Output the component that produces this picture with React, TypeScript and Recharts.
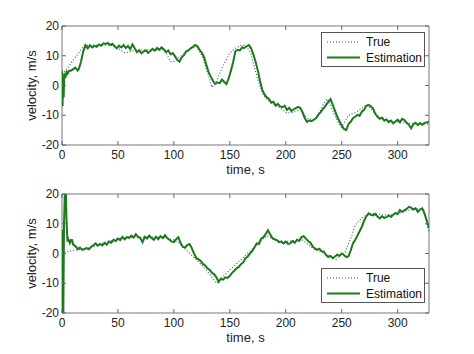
import React from 'react';
import { LineChart, Line, XAxis, YAxis, ReferenceArea, Legend } from 'recharts';

const xTicks = [0, 50, 100, 150, 200, 250, 300];
const yTicks = [-20, -10, 0, 10, 20];
const seriesNames = ['True', 'Estimation'];
const axisLabels = { x: 'time, s', y: 'velocity, m/s' };

const topEstimation: [number, number][] = [
  [0,5],[0.5,-7],[1,3],[1.5,-4],[2,4],[3,2.5],[4,4.5],[5,4],[6,5],[8,5],[10,5.5],[12,6],[14,5],[15,5.5],[17,8],[19,11.5],[21,13.5],[23,12.5],[25,13.5],[27,12.8],[29,13.3],[31,13],[33,13.8],[35,13.4],[37,14.2],[39,14],[41,14.3],[43,13.6],[45,14],[47,13.2],[49,12.5],[51,13.4],[53,12.8],[55,13.6],[57,12.6],[59,13.3],[61,12.2],[63,13.8],[65,12.5],[67,11.2],[69,11.8],[71,10.8],[73,11.5],[75,11.8],[77,11],[79,11.6],[81,12.3],[83,11.7],[85,12.6],[87,12],[89,12.8],[91,12.2],[93,11.2],[95,11.8],[97,10.5],[99,10.9],[101,9.8],[103,8.6],[105,8],[107,9.5],[109,10.2],[111,11.5],[113,11.8],[115,12.5],[117,13],[119,13.6],[121,13.2],[123,12],[125,11],[127,9.5],[129,7],[131,4.5],[133,3],[135,1.5],[137,0.5],[139,1],[141,0.8],[143,2],[145,1.2],[147,0.5],[149,2.5],[151,5],[153,8],[155,11.5],[157,12],[159,11.8],[161,12.8],[163,12.6],[165,13.2],[167,13.6],[169,12.5],[171,10.5],[173,8],[175,5],[177,1.5],[179,-1.5],[181,-3],[183,-4],[185,-4.5],[187,-5.8],[189,-5.5],[191,-6.8],[193,-6.2],[195,-7],[197,-7.3],[199,-6.8],[201,-8.2],[203,-7.5],[205,-8.6],[207,-8],[209,-7.6],[211,-7.2],[213,-7.6],[215,-9],[217,-11],[219,-12.2],[221,-11.7],[223,-12],[225,-11.5],[227,-11],[229,-9.9],[231,-9],[233,-8],[235,-7.1],[237,-6],[239,-5],[240,-4.6],[242,-6.5],[244,-8.5],[246,-10.5],[248,-12],[250,-13.5],[252,-14.6],[254,-15],[256,-13],[258,-12.2],[260,-11],[262,-10.5],[264,-9.9],[266,-10.2],[268,-8.8],[270,-8.2],[272,-6.8],[274,-6.5],[276,-7],[278,-7.7],[280,-9.5],[282,-10.5],[284,-11.2],[286,-10.8],[288,-11.8],[290,-11.4],[292,-12.3],[294,-11.8],[296,-12.7],[298,-12.1],[300,-11.5],[302,-12.4],[304,-11.2],[306,-11.6],[308,-12.5],[310,-13.2],[312,-14.4],[314,-13],[316,-12.5],[318,-13.3],[320,-12.6],[322,-13.2],[324,-12.6],[326,-12.4],[328,-12.2]
];

const topTrue: [number, number][] = [
  [2,4.5],[20,13.5],[40,13.6],[45,13.5],[50,12.5],[56,11],[60,11.2],[65,12],[90,12],[93,11],[97,8],[100,8],[105,9.5],[115,12.5],[120,13],[125,10],[130,4.5],[134,-0.6],[138,1.5],[145,7.5],[150,11],[155,12.5],[160,13.5],[164,13.5],[166,12.5],[169,10.5],[172,6],[175,2],[180,-3.5],[186,-5.5],[195,-7.5],[201,-9.3],[207,-9],[213,-8],[216,-9.5],[219,-11],[226,-11.5],[230,-9],[234,-6],[237,-4.5],[240,-6.5],[243,-9.5],[247,-12.5],[250,-14],[253,-12],[256,-10],[263,-9],[272,-6.5],[275,-7.5],[280,-9.5],[285,-11],[295,-12],[305,-12.5],[315,-12.8],[328,-13]
];

const bottomEstimation: [number, number][] = [
  [0,8],[0.5,-20],[1.2,-20],[1.8,10],[2.5,20],[3.5,20],[4,12],[4.5,7],[5,4],[5.5,5],[7,3.5],[8,4.5],[9,4.5],[10,3],[12,2.5],[14,1.5],[16,2],[18,1.2],[20,1.5],[22,1.8],[24,1.4],[26,2.2],[28,2.8],[30,3.4],[32,2.6],[34,3.2],[36,2.7],[38,3.5],[40,3],[42,4],[44,3.6],[46,4.6],[48,4.2],[50,5],[52,4.5],[54,5.6],[56,4.8],[58,5.5],[60,5.2],[62,6],[64,5.4],[66,6.5],[68,5.6],[70,5.2],[72,3.8],[74,5.6],[76,5],[78,6],[80,5.2],[82,4.6],[84,5.6],[86,4.8],[88,5.8],[90,5.2],[92,6.2],[94,5.2],[96,4.6],[98,4],[100,3.8],[102,4.8],[104,5.5],[106,3.5],[108,2.2],[110,2],[112,2.8],[114,3.2],[116,1.8],[118,0],[120,-1.5],[122,-2],[124,-2.5],[126,-3.5],[128,-4],[130,-5],[132,-5.5],[134,-6.5],[136,-7],[138,-8],[140,-9.5],[142,-8.5],[144,-8.8],[146,-8],[148,-8.2],[150,-7.5],[152,-6.5],[154,-5.8],[156,-5],[158,-4.5],[160,-3.6],[162,-3],[164,-1.6],[166,-1],[168,0],[170,0.8],[172,2],[174,3.4],[176,3.2],[178,5],[180,5.5],[182,6.5],[184,7.8],[186,6.5],[188,5.2],[190,4.8],[192,4.5],[194,3.8],[196,4],[198,3.4],[200,4],[202,3.2],[204,3.4],[206,4.2],[208,3.6],[210,4.6],[212,4.2],[214,5.5],[216,5.8],[218,5],[220,4.2],[222,3.6],[224,2.4],[226,1.7],[228,1.2],[230,1.6],[232,0.8],[234,0.6],[236,-0.5],[238,-1.2],[240,-0.8],[242,-1.6],[244,-1],[246,-0.4],[248,-0.8],[250,0],[252,-0.5],[254,-1.2],[256,-1],[258,1],[260,3.4],[262,4.5],[264,6],[266,7.5],[268,9],[270,11],[272,12.5],[274,13.5],[276,13],[278,12.8],[280,13.3],[282,12.4],[284,11.8],[286,12.5],[288,12],[290,12.2],[292,12.8],[294,12.3],[296,13],[298,13.6],[300,13.2],[302,14.6],[304,14],[306,14.5],[308,15],[310,15.7],[312,15.4],[314,14.8],[316,15.2],[318,14],[320,14.8],[322,15.2],[324,13.5],[326,11],[328,8.5]
];

const bottomTrue: [number, number][] = [
  [2,0.5],[10,1],[20,1.5],[30,2.5],[40,4],[50,5],[60,5.5],[70,5.5],[80,5.5],[90,5.5],[100,4.5],[105,3.5],[110,1.5],[120,-2],[130,-6],[138,-10],[150,-5.5],[160,-2],[170,1.5],[180,5],[183,6],[190,4.5],[200,4],[210,4.5],[215,4.5],[220,3],[225,1.5],[232,0.5],[240,-1],[245,-2],[249,-0.5],[253,0.5],[258,5],[262,9.5],[268,12],[273,13],[278,13.5],[285,13],[295,13],[305,14],[315,15],[322,15],[325,12],[328,7]
];

const toRows = (pts: [number, number][]) => pts.map(([t, v]) => ({ t, v }));

const GREEN = '#1c7a1c';
const DOT = '#4a5678';
const FONT = '"Liberation Sans", Arial, sans-serif';
const PLOT_LEFT = 62;
const PLOT_RIGHT = 429;
const TICK = 4;

function makeXTick(plotTop: number, plotBottom: number) {
  return (props: any) => {
    const { x, payload } = props;
    return (
      <g>
        <line x1={x} x2={x} y1={plotBottom} y2={plotBottom - TICK} stroke="#666" />
        <line x1={x} x2={x} y1={plotTop} y2={plotTop + TICK} stroke="#666" />
        <text x={x} y={plotBottom + 9.5} dy="0.35em" textAnchor="middle" fontSize={12} fontFamily={FONT} fill="#222">
          {payload.value}
        </text>
      </g>
    );
  };
}

const YTick = (props: any) => {
  const { y, payload } = props;
  return (
    <g>
      <line x1={PLOT_LEFT} x2={PLOT_LEFT + TICK} y1={y} y2={y} stroke="#666" />
      <line x1={PLOT_RIGHT} x2={PLOT_RIGHT - TICK} y1={y} y2={y} stroke="#666" />
      <text x={PLOT_LEFT - 3} y={y} dy="0.35em" textAnchor="end" fontSize={12} fontFamily={FONT} fill="#222">
        {payload.value}
      </text>
    </g>
  );
};

const LegendBox = () => (
  <div style={{ width: 104, height: 35, position: 'relative', background: '#fff', border: '1px solid #555', boxSizing: 'border-box' }}>
    <svg width={102} height={33} style={{ position: 'absolute', left: 0, top: 0 }}>
      <line x1={5} x2={38} y1={9} y2={9} stroke={DOT} strokeWidth={1.2} strokeDasharray="1 2" />
      <line x1={5} x2={38} y1={24.5} y2={24.5} stroke={GREEN} strokeWidth={2} />
      <text x={44} y={9} dy="0.35em" fontSize={12} fontFamily={FONT} fill="#111">{seriesNames[0]}</text>
      <text x={44} y={24.5} dy="0.35em" fontSize={12} fontFamily={FONT} fill="#111">{seriesNames[1]}</text>
    </svg>
  </div>
);

function Panel({ est, tru, marginTop, marginBottom, legendTop }: any) {
  const height = 177;
  const plotTop = marginTop;
  const plotBottom = height - marginBottom - 30;
  return (
    <LineChart width={474} height={height} margin={{ top: marginTop, right: 45, bottom: marginBottom, left: 0 }}>
      <XAxis
        dataKey="t"
        type="number"
        domain={[0, 328]}
        ticks={xTicks}
        allowDataOverflow
        height={30}
        axisLine={false}
        tickLine={false}
        tick={makeXTick(plotTop, plotBottom)}
        label={{ value: axisLabels.x, position: 'insideBottom', offset: 1, fontSize: 13, fontFamily: FONT, fill: '#222' }}
      />
      <YAxis
        type="number"
        domain={[-20, 20]}
        ticks={yTicks}
        allowDataOverflow
        width={62}
        axisLine={false}
        tickLine={false}
        tick={<YTick />}
        label={{ value: axisLabels.y, angle: -90, position: 'insideLeft', offset: 31, style: { textAnchor: 'middle' }, fontSize: 13, fontFamily: FONT, fill: '#222' }}
      />
      <Line data={toRows(tru)} dataKey="v" name={seriesNames[0]} stroke={DOT} strokeWidth={1.2} strokeDasharray="1 2" dot={false} isAnimationActive={false} />
      <Line data={toRows(est)} dataKey="v" name={seriesNames[1]} stroke={GREEN} strokeWidth={2} dot={false} isAnimationActive={false} />
      <ReferenceArea x1={0} x2={328} y1={-20} y2={20} fill="none" stroke="#777" strokeWidth={1} ifOverflow="visible" />
      <Legend
        layout="vertical"
        align="center"
        verticalAlign="middle"
        content={<LegendBox />}
        wrapperStyle={{ left: 321, top: legendTop, width: 104, height: 35 }}
      />
    </LineChart>
  );
}

export default function App() {
  return (
    <div style={{ position: 'absolute', left: 0, top: 0, width: 474, height: 354, background: '#fff' }}>
      <Panel est={topEstimation} tru={topTrue} marginTop={26} marginBottom={2} legendTop={32} />
      <Panel est={bottomEstimation} tru={bottomTrue} marginTop={17} marginBottom={11} legendTop={91} />
    </div>
  );
}
